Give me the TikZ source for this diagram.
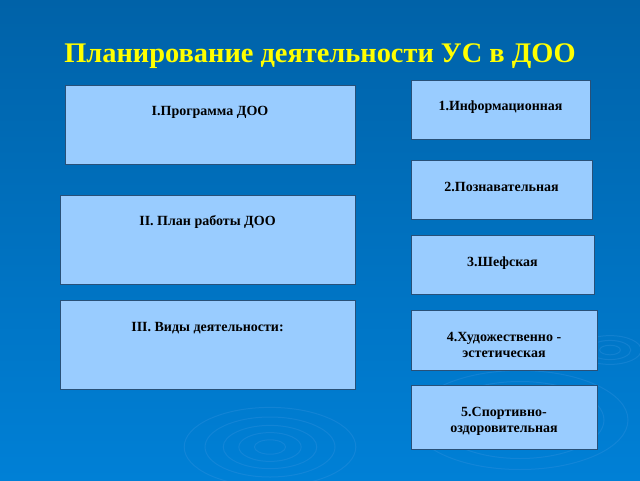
\documentclass[tikz,border=0pt]{standalone}
\usepackage{fontspec}
\setmainfont{Liberation Serif}
\definecolor{bgtop}{RGB}{0,98,168}
\definecolor{bgbot}{RGB}{0,128,214}
\definecolor{boxfill}{RGB}{153,204,255}
\definecolor{boxline}{RGB}{40,80,120}
\definecolor{titlecol}{RGB}{255,255,0}
\definecolor{ripple}{RGB}{60,150,225}
\tikzset{
  box/.style={draw=boxline, line width=0.8pt, fill=boxfill, rectangle, inner sep=0pt},
  lbl/.style={font=\fontsize{14}{16}\selectfont\bfseries, text=black, align=center, inner sep=0pt},
  ttl/.style={font=\fontsize{28.4}{34}\selectfont\bfseries, text=titlecol, inner sep=0pt},
  rip/.style={draw=ripple, line width=1pt, opacity=0.3}
}
\begin{document}
\begin{tikzpicture}[x=1pt,y=-1pt]
\useasboundingbox (0,0) rectangle (640,480);
\shade[top color=bgtop, bottom color=bgbot] (0,0) rectangle (640,480);
% ripples
\foreach \r in {12,24,36,50,66} {\draw[rip] (270,447) ellipse ({\r*1.3} and {\r*0.6});}
\foreach \r in {8,16,24} {\draw[rip] (610,350) ellipse ({\r*1.3} and {\r*0.6});}
\foreach \r in {70,90} {\draw[rip] (520,420) ellipse ({\r*1.2} and {\r*0.55});}
% title
\node[ttl, anchor=base] (title) at (320,62) {Планирование деятельности УС в ДОО};
% left boxes
\node[box, minimum width=290pt, minimum height=79pt] (A) at (210,124.5) {};
\node[lbl] (At) at (210,112) {I.Программа ДОО};
\node[box, minimum width=295pt, minimum height=89pt] (B) at (207.5,239.5) {};
\node[lbl] (Bt) at (207.5,222) {II. План работы ДОО};
\node[box, minimum width=295pt, minimum height=89pt] (C) at (207.5,344.5) {};
\node[lbl] (Ct) at (207.5,328) {III. Виды деятельности:};
% right boxes
\node[box, minimum width=179pt, minimum height=59pt] (R1) at (500.5,109.5) {};
\node[lbl] (R1t) at (500.5,107) {1.Информационная};
\node[box, minimum width=181pt, minimum height=59pt] (R2) at (501.5,189.5) {};
\node[lbl] (R2t) at (501.5,187) {2.Познавательная};
\node[box, minimum width=183pt, minimum height=59pt] (R3) at (502.5,264.5) {};
\node[lbl] (R3t) at (502.5,263) {3.Шефская};
\node[box, minimum width=186pt, minimum height=60pt] (R4) at (504,340) {};
\node[lbl] (R4t) at (504,345) {4.Художественно -\\эстетическая};
\node[box, minimum width=186pt, minimum height=64pt] (R5) at (504,417) {};
\node[lbl] (R5t) at (504,421) {5.Спортивно-\\оздоровительная};
\end{tikzpicture}
\end{document}
